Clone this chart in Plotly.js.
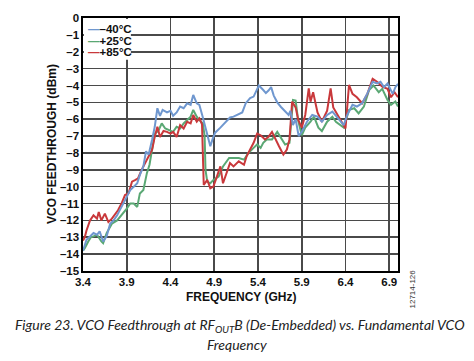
<!DOCTYPE html>
<html><head><meta charset="utf-8">
<script src="https://cdn.plot.ly/plotly-3.0.1.min.js"></script>
<style>html,body{margin:0;padding:0;background:#fff;}#chart{width:474px;height:361px;}</style>
</head><body><div id="chart"></div>
<script>
const seriesNames = ['\u201340\u00B0C', '+25\u00B0C', '+85\u00B0C'];
const seriesColors = ['#6f97cf', '#5aa874', '#c9383b'];

const freqCold = [3.40,3.42,3.44,3.48,3.52,3.56,3.59,3.63,3.67,3.71,3.75,3.79,3.82,3.86,3.90,3.94,3.98,4.02,4.05,4.09,4.12,4.15,4.19,4.22,4.25,4.28,4.31,4.36,4.40,4.43,4.47,4.51,4.55,4.59,4.63,4.66,4.70,4.73,4.77,4.80,4.83,4.855,4.88,4.91,4.97,5.03,5.08,5.12,5.16,5.22,5.26,5.31,5.35,5.38,5.41,5.46,5.49,5.52,5.55,5.58,5.62,5.66,5.71,5.75,5.77,5.80,5.83,5.865,5.905,5.96,6.02,6.08,6.13,6.19,6.25,6.31,6.38,6.42,6.48,6.53,6.59,6.65,6.71,6.76,6.80,6.84,6.88,6.94,6.97,7.00];
const feedCold = [-13.8,-13.5,-13.15,-12.95,-12.75,-12.85,-12.65,-13.25,-12.95,-12.2,-12.0,-11.7,-11.4,-11.0,-10.6,-10.2,-10.0,-9.8,-9.3,-8.8,-7.9,-8.1,-7.2,-6.45,-5.35,-5.8,-5.45,-5.6,-5.5,-5.8,-5.6,-5.25,-5.35,-5.06,-5.15,-4.56,-5.06,-5.15,-5.9,-6.45,-7.0,-7.6,-7.2,-6.8,-6.5,-6.15,-5.9,-5.85,-5.75,-5.6,-5.05,-4.75,-4.66,-4.37,-4.0,-4.27,-4.45,-4.3,-4.1,-4.6,-5.0,-5.26,-5.55,-5.75,-5.5,-6.35,-6.0,-7.0,-6.7,-6.15,-5.75,-5.85,-6.15,-5.75,-5.55,-5.95,-6.35,-5.75,-5.15,-5.25,-5.05,-4.47,-3.78,-3.88,-3.78,-4.1,-3.88,-4.5,-4.1,-3.9];

const freqRoom = [3.40,3.42,3.46,3.49,3.52,3.56,3.61,3.63,3.67,3.73,3.79,3.84,3.90,3.94,3.98,4.02,4.05,4.09,4.13,4.16,4.19,4.22,4.26,4.30,4.34,4.40,4.43,4.47,4.51,4.55,4.59,4.63,4.66,4.70,4.73,4.77,4.79,4.80,4.82,4.855,4.89,4.95,5.00,5.07,5.12,5.18,5.24,5.29,5.35,5.39,5.43,5.46,5.50,5.56,5.62,5.66,5.71,5.76,5.80,5.83,5.86,5.90,5.94,6.00,6.04,6.09,6.13,6.19,6.25,6.29,6.34,6.38,6.44,6.50,6.55,6.61,6.67,6.72,6.78,6.82,6.88,6.92,6.97,7.00];
const feedRoom = [-13.8,-13.65,-13.25,-13.0,-12.95,-12.85,-13.25,-13.35,-12.75,-12.2,-12.0,-11.7,-11.3,-11.0,-11.0,-11.2,-10.4,-10.2,-9.2,-8.7,-7.8,-6.85,-6.7,-6.25,-6.55,-6.7,-6.75,-6.45,-6.55,-6.25,-6.05,-5.85,-5.45,-5.85,-6.05,-6.25,-7.0,-9.0,-9.7,-9.8,-9.6,-9.4,-8.8,-8.3,-8.3,-8.3,-8.4,-8.0,-7.7,-7.5,-7.7,-7.4,-7.2,-7.2,-6.75,-7.05,-7.5,-7.4,-4.86,-4.9,-6.1,-6.95,-6.5,-6.15,-5.85,-6.5,-6.7,-6.15,-5.85,-6.15,-6.35,-6.5,-5.45,-5.35,-5.65,-5.25,-4.27,-4.0,-4.4,-4.2,-4.86,-5.15,-4.95,-5.25];

const freqHot = [3.40,3.42,3.44,3.48,3.52,3.56,3.58,3.61,3.65,3.69,3.73,3.77,3.80,3.84,3.88,3.92,3.96,4.00,4.03,4.07,4.13,4.19,4.22,4.25,4.28,4.32,4.36,4.40,4.43,4.47,4.51,4.55,4.59,4.63,4.66,4.70,4.73,4.76,4.78,4.82,4.855,4.89,4.93,4.97,5.00,5.05,5.08,5.12,5.18,5.24,5.27,5.31,5.35,5.39,5.43,5.48,5.52,5.56,5.60,5.64,5.69,5.73,5.76,5.79,5.83,5.86,5.90,5.94,5.98,6.00,6.03,6.08,6.13,6.19,6.23,6.26,6.31,6.36,6.40,6.44,6.48,6.53,6.59,6.65,6.71,6.76,6.82,6.88,6.92,6.96,7.00];
const feedHot = [-13.2,-13.0,-12.6,-12.0,-11.7,-11.9,-11.5,-12.0,-11.6,-12.1,-11.9,-11.6,-11.4,-11.0,-10.5,-10.4,-9.7,-9.6,-9.5,-9.0,-8.4,-7.8,-7.05,-6.45,-7.05,-6.7,-6.75,-6.85,-6.75,-7.05,-6.35,-6.55,-6.15,-6.25,-5.75,-6.15,-5.95,-6.3,-9.9,-9.6,-10.1,-10.0,-9.4,-8.8,-9.8,-9.0,-8.6,-8.8,-8.5,-8.7,-8.2,-7.8,-7.4,-6.85,-6.95,-7.2,-7.05,-6.75,-7.2,-7.6,-8.1,-7.8,-7.2,-4.96,-5.3,-6.05,-6.5,-5.75,-4.17,-4.96,-4.4,-5.6,-6.15,-5.5,-4.17,-5.3,-5.75,-6.2,-6.55,-3.97,-4.5,-4.7,-5.05,-4.5,-3.6,-3.78,-4.07,-4.2,-4.7,-4.4,-4.7];

const xTicks = [3.4,3.9,4.4,4.9,5.4,5.9,6.4,6.9];
const yTicks = [0,-1,-2,-3,-4,-5,-6,-7,-8,-9,-10,-11,-12,-13,-14,-15];

const xs = [freqCold, freqRoom, freqHot];
const ys = [feedCold, feedRoom, feedHot];
const traces = seriesNames.map((n, i) => ({
  x: xs[i], y: ys[i], type: 'scatter', mode: 'lines', name: n,
  line: {color: seriesColors[i], width: 2}
}));
// draw order: green, red, then blue on top
const ordered = [traces[1], traces[2], traces[0]];

const baseFont = 'Liberation Sans, Arial, sans-serif';
const tickFont = {family: baseFont, size: 11.5, color: '#111', weight: 'bold'};

// compact legend built from the series names/colours; a white panel hides the grid behind it
const legendPanel = {type: 'rect', xref: 'paper', yref: 'paper', x0: 0.003, x1: 0.152, y0: 0.835, y1: 0.996,
  fillcolor: '#ffffff', line: {width: 0}, layer: 'above'};
const legendRows = [0.9565, 0.911, 0.8656];
const legendItems = seriesNames.map((n, i) => ({
  text: '<b><span style="color:' + seriesColors[i] + '">\u2014</span>' + n + '</b>',
  xref: 'paper', yref: 'paper', x: 0.008, y: legendRows[i], xanchor: 'left', yanchor: 'middle',
  showarrow: false, font: {family: baseFont, size: 11.5, color: '#111'}
}));

const layout = {
  width: 474, height: 361,
  margin: {l: 83, r: 76, t: 18, b: 90},
  paper_bgcolor: '#fff', plot_bgcolor: '#fff',
  showlegend: false,
  shapes: [legendPanel],
  xaxis: {range: [3.4, 7.0], tickvals: xTicks, ticktext: xTicks.map(v => v.toFixed(1)),
    showgrid: true, gridcolor: '#4a4a4a', gridwidth: 1.6, zeroline: false,
    showline: true, linecolor: '#000', linewidth: 1.6, mirror: true, ticks: '',
    tickfont: tickFont, fixedrange: true},
  yaxis: {range: [-15, 0], tickvals: yTicks, ticktext: yTicks.map(v => v < 0 ? '\u2013' + Math.abs(v) : String(v)),
    showgrid: true, gridcolor: '#4a4a4a', gridwidth: 1.6, zeroline: false,
    showline: true, linecolor: '#000', linewidth: 1.6, mirror: true, ticks: '',
    tickfont: tickFont, fixedrange: true},
  annotations: legendItems.concat([
    {text: '<b>VCO FEEDTHROUGH (dBm)</b>', xref: 'paper', yref: 'paper', x: -0.1, y: 0.5,
     xanchor: 'center', yanchor: 'middle', textangle: -90, showarrow: false,
     font: {family: baseFont, size: 12, color: '#111'}},
    {text: '<b>FREQUENCY (GHz)</b>', xref: 'paper', yref: 'paper', x: 0.5, y: -0.103,
     xanchor: 'center', yanchor: 'middle', showarrow: false,
     font: {family: baseFont, size: 12, color: '#111'}},
    {text: '12714-126', xref: 'paper', yref: 'paper', x: 1.047, y: -0.07,
     xanchor: 'center', yanchor: 'middle', textangle: -90, showarrow: false,
     font: {family: baseFont, size: 8, color: '#333'}},
    {text: '<i>Figure 23. VCO Feedthrough at RF<sub>OUT</sub>B (De-Embedded) vs. Fundamental VCO</i>',
     xref: 'paper', yref: 'paper', x: 0.497, y: -0.215, xanchor: 'center', yanchor: 'middle', showarrow: false,
     font: {family: 'Lato, Liberation Sans, sans-serif', size: 14, color: '#222'}},
    {text: '<i>Frequency</i>',
     xref: 'paper', yref: 'paper', x: 0.49, y: -0.29, xanchor: 'center', yanchor: 'middle', showarrow: false,
     font: {family: 'Lato, Liberation Sans, sans-serif', size: 14, color: '#222'}}
  ])
};
Plotly.newPlot('chart', ordered, layout, {displayModeBar: false, staticPlot: true});
</script></body></html>
